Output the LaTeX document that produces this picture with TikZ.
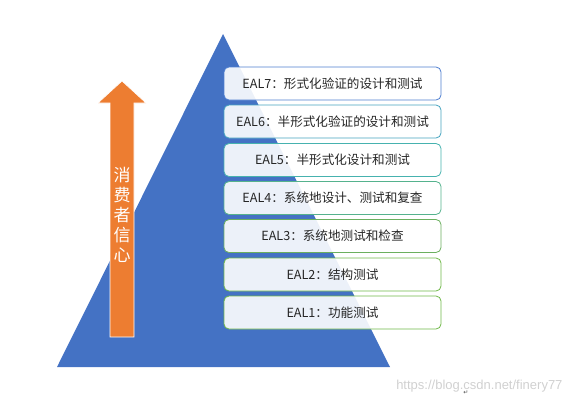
\documentclass[tikz,border=0pt]{standalone}
\usepackage{fontspec}
\setmainfont{Noto Sans CJK SC}
\newfontfamily\symfont{DejaVu Sans}
\newfontfamily\markfont{Liberation Sans}
\usepackage{tikz}

\definecolor{triblue}{HTML}{4472C4}
\definecolor{arroworange}{HTML}{ED7D31}
\definecolor{lvlblue}{HTML}{4F7FD0}
\definecolor{lvlgreen}{HTML}{70B84A}
\definecolor{marktext}{HTML}{D0D0D0}

\tikzset{
  ealbox/.style={draw, line width=0.8pt, rounded corners=5pt, fill=white, fill opacity=0.9,
    text opacity=1, text=black!85, minimum width=217pt, minimum height=33pt,
    inner sep=0pt, font=\fontsize{12.6}{14}\selectfont},
}

\begin{document}
\begin{tikzpicture}[x=1pt,y=-1pt]
        \useasboundingbox (0,0) rectangle (572,405);
        % pyramid
        \fill[triblue] (57,367) -- (223,34) -- (390,367) -- cycle;
        % arrow
        \draw[fill=arroworange, draw=white, line width=0.6pt] (110,337) -- (110,103) -- (98,103) -- (122,81)
            -- (146,103) -- (134,103) -- (134,337) -- cycle;
        \node[text=white, align=center, font=\fontsize{17}{20}\selectfont] (trust) at (122,215)
            {消\\费\\者\\信\\心};
        % levels
        \node[ealbox, draw=lvlblue] (eal7) at (332.5,83.5) {EAL7：形式化验证的设计和测试};
        \node[ealbox, draw=lvlblue!75!lvlgreen!80!cyan] (eal6) at (332.5,121.5) {EAL6：半形式化验证的设计和测试};
        \node[ealbox, draw=lvlblue!55!lvlgreen!75!cyan] (eal5) at (332.5,160) {EAL5：半形式化设计和测试};
        \node[ealbox, draw=lvlblue!35!lvlgreen!85!cyan] (eal4) at (332.5,198) {EAL4：系统地设计、测试和复查};
        \node[ealbox, draw=lvlblue!15!lvlgreen] (eal3) at (332.5,236) {EAL3：系统地测试和检查};
        \node[ealbox, draw=lvlgreen] (eal2) at (332.5,274.5) {EAL2：结构测试};
        \node[ealbox, draw=lvlgreen] (eal1) at (332.5,312.5) {EAL1：功能测试};
        % watermark
        \node[anchor=east, text=marktext, font=\markfont\fontsize{13}{15}\selectfont] (mark) at (566,386)
            {https://blog.csdn.net/finery77};
        \node[text=black!70, font=\symfont\fontsize{6}{7}\selectfont] (ret) at (466,393) {↵};
    \end{tikzpicture}
\end{document}
